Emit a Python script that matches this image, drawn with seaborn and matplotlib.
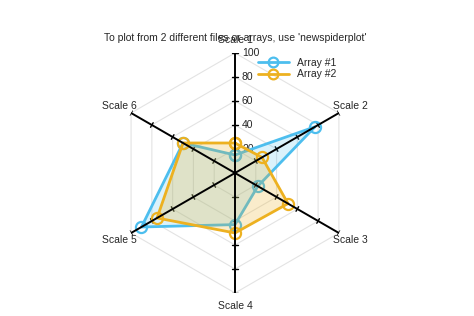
import numpy as np
import pandas as pd
import seaborn as sns
import matplotlib.pyplot as plt
from matplotlib.lines import Line2D

#%% Data

scales = ['Scale 1', 'Scale 2', 'Scale 3', 'Scale 4', 'Scale 5', 'Scale 6']
array_1 = [15, 77, 22, 43, 90, 50]
array_2 = [25, 26, 51, 50, 75, 50]
series_names = ['Array #1', 'Array #2']
tick_values = [20, 40, 60, 80, 100]
title = "To plot from 2 different files or arrays, use 'newspiderplot'"

colors = ['#4DBEEE', '#EDB120']
fill_alpha = [0.2, 0.23]
fs = 7.5

#%% Long-form table, polygons closed by repeating the first point

n = len(scales)
angles = np.linspace(0, 2 * np.pi, n, endpoint=False)
rows = []
for name, values in zip(series_names, [array_1, array_2]):
    for i in list(range(n)) + [0]:
        rows.append({'series': name, 'theta': angles[i], 'value': values[i]})
df = pd.DataFrame(rows)

#%% Figure

sns.set_style('white')
plt.rcParams['font.family'] = ['Liberation Sans', 'DejaVu Sans']

fig = plt.figure(figsize=(4.74, 3.16), dpi=100)
ax = fig.add_axes([0.2426, 0.0728, 0.5063, 0.7595], projection='polar')
ax.set_theta_zero_location('N')
ax.set_theta_direction(-1)
ax.set_ylim(0, 100)
ax.grid(False)
ax.set_xticks([])
ax.set_yticks([])
ax.spines['polar'].set_visible(False)
ax.patch.set_alpha(0)

# hexagonal web
closed = np.append(angles, angles[0])
for r in tick_values:
    ax.plot(closed, [r] * (n + 1), color='#e3e3e3', lw=0.8, zorder=1)

# axes, short ticks perpendicular to each axis, and labels
half = 2.2  # half tick length, in radial units
for i, th in enumerate(angles):
    ax.plot([th, th], [0, 100], color='black', lw=1.4, zorder=8)
    for v in tick_values:
        d_th = np.arctan(half / v)
        rr = np.hypot(v, half)
        ax.plot([th - d_th, th + d_th], [rr, rr], color='black', lw=1.0, zorder=2)
    ax.text(th, 111, scales[i], ha='center', va='center', fontsize=fs)

for v in tick_values:
    ax.annotate(str(v), xy=(0, v), xytext=(7, 0), textcoords='offset pixels',
                ha='left', va='center', fontsize=fs, zorder=2)

# data: each series' fill sits over the previous series' line
for k, (name, col) in enumerate(zip(series_names, colors)):
    d = df[df['series'] == name]
    ax.fill(d['theta'], d['value'], color=col, alpha=fill_alpha[k], lw=0, zorder=3 + 2 * k)
    sns.lineplot(data=d, x='theta', y='value', sort=False, estimator=None,
                 color=col, lw=2, marker='o', ms=8, mfc='none', mec=col, mew=1.6,
                 ax=ax, zorder=4 + 2 * k)
ax.set_xlabel('')
ax.set_ylabel('')

handles = [Line2D([], [], color=c, lw=2, marker='o', ms=7, mfc='none', mec=c, mew=1.6)
           for c in colors]
fig.legend(handles, series_names, loc='upper left', bbox_to_anchor=(0.535, 0.83),
           frameon=False, fontsize=fs, handlelength=3, handletextpad=0.8,
           labelspacing=0.15, borderaxespad=0)

fig.text(0.496, 0.88, title, ha='center', va='center', fontsize=fs)

fig.savefig('out.png', dpi=100)
